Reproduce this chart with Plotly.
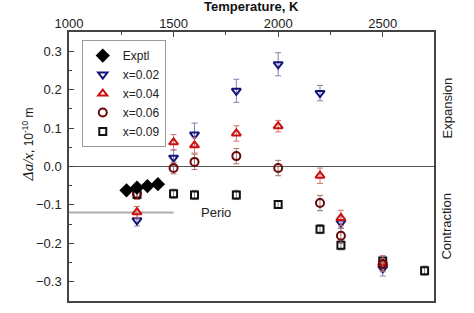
import plotly.graph_objects as go

# ---- data ----
T_exp = [1275, 1325, 1375, 1425]
y_exp = [-0.062, -0.055, -0.051, -0.046]

T = [1325, 1500, 1600, 1800, 2000, 2200, 2300, 2500]
y002 = [-0.140, 0.023, 0.083, 0.197, 0.266, 0.191, -0.146, -0.265]
e002 = [0.015, 0.02, 0.03, 0.03, 0.03, 0.02, 0.015, 0.02]
y004 = [-0.119, 0.063, 0.055, 0.086, 0.105, -0.024, -0.134, -0.252]
e004 = [0.015, 0.02, 0.02, 0.02, 0.015, 0.02, 0.02, 0.02]
y006 = [-0.071, -0.004, 0.012, 0.027, -0.004, -0.095, -0.180, -0.254]
e006 = [0.015, 0.015, 0.02, 0.02, 0.02, 0.02, 0.02, 0.02]
T009 = [1325, 1500, 1600, 1800, 2000, 2200, 2300, 2500, 2700]
y009 = [-0.073, -0.071, -0.074, -0.074, -0.099, -0.163, -0.205, -0.246, -0.271]
e009 = [0.01, 0.012, 0.012, 0.012, 0.01, 0.012, 0.012, 0.012, 0.012]

perio_T = [1000, 1500]
perio_y = -0.12

x_ticks = [1000, 1500, 2000, 2500]
y_ticks = [-0.3, -0.2, -0.1, 0.0, 0.1, 0.2, 0.3]

FONT = "Liberation Sans, Arial, sans-serif"

fig = go.Figure()

def series(x, y, err, name, symbol, color, ecolor, rank, size=8, lw=2):
    fig.add_trace(go.Scatter(
        x=x, y=y, mode="markers", name=name, legendrank=rank,
        marker=dict(symbol=symbol, size=size, color=color,
                    line=dict(color=color, width=lw)),
        error_y=dict(type="data", array=err, visible=True, color=ecolor,
                     thickness=1, width=3) if err is not None else None,
    ))

series(T009, y009, e009, "x=0.09", "square-open", "#111111", "#888888", 5, size=7)
series(T, y002, e002, "x=0.02", "triangle-down-open", "#14147a", "#8080b0", 2)
series(T, y004, e004, "x=0.04", "triangle-up-open", "#cc1010", "#d87070", 3)
series(T, y006, e006, "x=0.06", "circle-open", "#6a0808", "#a07070", 4)
series(T_exp, y_exp, None, "Exptl", "diamond", "#000000", None, 1, size=11, lw=0)

# zero line and Perio line
fig.add_shape(type="line", xref="paper", x0=0, x1=1, yref="y", y0=0, y1=0,
              line=dict(color="#555555", width=1), layer="below")
fig.add_shape(type="line", xref="x", x0=perio_T[0], x1=perio_T[1], yref="y",
              y0=perio_y, y1=perio_y, line=dict(color="#b0b0b0", width=2), layer="below")

ann = dict(showarrow=False, xanchor="center", yanchor="middle")

fig.add_annotation(x=1705, y=perio_y, text="Perio",
                   font=dict(family=FONT, size=13, color="#222"), **ann)

fig.add_annotation(xref="paper", yref="paper", x=(447 - 69) / 365, y=(303 - 109) / 271,
                   text="Expansion", textangle=-90,
                   font=dict(family=FONT, size=13, color="#222"), **ann)
fig.add_annotation(xref="paper", yref="paper", x=(447 - 69) / 365, y=(303 - 228) / 271,
                   text="Contraction", textangle=-90,
                   font=dict(family=FONT, size=13, color="#222"), **ann)

fig.add_annotation(xref="paper", yref="paper", x=0.5, y=(303 - 6) / 271,
                   text="<b>Temperature, K</b>",
                   font=dict(family=FONT, size=13, color="#111"), **ann)
fig.add_annotation(xref="paper", yref="paper", x=(28 - 69) / 365, y=(303 - 145) / 271,
                   text="<span style='font-family:Liberation Serif;font-style:italic;font-size:15px'>Δa/x</span>, 10<sup>-10</sup> m",
                   textangle=-90,
                   font=dict(family=FONT, size=12, color="#111"), **ann)

axis_common = dict(showline=True, linecolor="#444444", linewidth=1.5, mirror=True,
                   ticks="inside", ticklen=5, tickcolor="#444444", tickwidth=1.2,
                   showgrid=False, zeroline=False,
                   tickfont=dict(family=FONT, size=13, color="#222"))

fig.update_xaxes(range=[1000, 2745], side="top", tickvals=x_ticks,
                 ticklabelstandoff=-3,
                 minor=dict(ticks="inside", ticklen=3, dtick=250, tickcolor="#444444"),
                 **axis_common)
fig.update_yaxes(range=[-0.35, 0.35], tickvals=y_ticks, tickformat=".1f",
                 ticklabelstandoff=3,
                 minor=dict(ticks="inside", ticklen=3, dtick=0.05, tickcolor="#444444"),
                 **axis_common)

fig.update_layout(
    width=474, height=313,
    margin=dict(l=69, r=40, t=32, b=10),
    paper_bgcolor="white", plot_bgcolor="white",
    font=dict(family=FONT, size=13, color="#222"),
    legend=dict(x=0.035, y=0.97, xanchor="left", yanchor="top",
                bordercolor="#999999", borderwidth=1, bgcolor="white",
                font=dict(family=FONT, size=12), tracegroupgap=0,
                itemwidth=30),
    showlegend=True,
)

fig.write_html("out.html")
